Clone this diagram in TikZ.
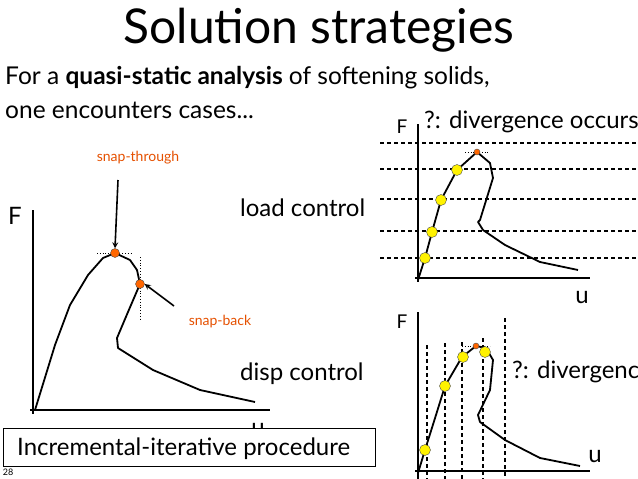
\documentclass[tikz,border=0pt]{standalone}
\usepackage{fontspec}
\setmainfont{Lato}
\begin{document}
\begin{tikzpicture}[x=1pt,y=-1pt,
  crv/.style={line width=1.8pt,line join=round},
  ax/.style={line width=1.8pt},
  lbl/.style={font=\fontsize{24}{28}\selectfont,inner sep=0pt},
  orl/.style={text=orange!70!red!90!black,font=\fontsize{14}{16}\selectfont,inner sep=0pt},
  ydot/.style={circle,fill=yellow,draw=black!70,inner sep=0pt,minimum size=11pt},
  rdot/.style={circle,fill=orange!80!red,draw=black!70,inner sep=0pt,minimum size=9pt},
  sdot/.style={circle,fill=orange!80!red,draw=black!70,inner sep=0pt,minimum size=6pt},
  dsh/.style={line width=1.3pt,dash pattern=on 4pt off 3pt},
  dot/.style={dotted,line width=0.8pt}]
\useasboundingbox (0,0) rectangle (638,479);
\clip (0,0) rectangle (638,479);
\node (title) at (319,30) {\fontsize{48}{54}\selectfont Solution strategies};
\node[anchor=west,inner sep=0pt] (l1) at (5,78) {\fontsize{24.5}{28}\selectfont For a \textbf{quasi-static analysis} of softening solids,};
\node[anchor=west,inner sep=0pt] (l2) at (5,110) {\fontsize{24.5}{28}\selectfont one encounters cases...};
% left graph
\draw[ax] (33,210) -- (33,414);
\draw[ax] (30,410) -- (270,410);
\node[lbl] (F1) at (15,216) {F};
\node[lbl] (u1) at (258,430) {u};
\draw[dot] (97,253) -- (133,253);
\draw[dot] (140,257) -- (140,320);
\draw[crv] (35,410) -- (55,345) -- (70,305) -- (88,275) -- (103,258) -- (115,253) -- (130,260) -- (137,270) -- (140,284) -- (128,312) -- (117,338) -- (118,348) -- (153,370) -- (200,390) -- (255,402);
\node[rdot] (p1) at (115,253) {};
\node[rdot] (p2) at (140,284) {};
\node[orl] (st) at (138,158) {snap-through};
\node[orl] (sb) at (220,322) {snap-back};
\coordinate (a1) at (118,180);
\draw[-stealth,line width=1.6pt] (a1) -- (p1.north);
\coordinate (a2) at (174,306);
\draw[-stealth,line width=1.6pt] (a2) -- (p2.east);
\node[lbl,anchor=west] (lc) at (240,208) {load control};
\node[lbl,anchor=west] (dc) at (240,374) {disp control};
\node[draw,line width=1.2pt,fill=white,minimum width=372pt,minimum height=38pt,anchor=north west,inner sep=0pt] (box) at (3,428) {};
\node[lbl,anchor=west] (inc) at (17,449) {Incremental-iterative procedure};
\node[font=\fontsize{9}{10}\selectfont,inner sep=0pt] (n28) at (8,472) {28};
% top right
\foreach \y in {143,169,199,231,258} \draw[dsh] (380,\y) -- (638,\y);
\draw[ax] (418,124) -- (418,282);
\draw[ax] (415,278) -- (590,278);
\node[font=\fontsize{19}{22}\selectfont,inner sep=0pt] (F2) at (402,127) {F};
\node[lbl,anchor=west] (dv1) at (424,122) {?: divergence occurs};
\node[lbl] (u2) at (582,298) {u};
\draw[dot] (465,152) -- (490,152);
\draw[crv] (418,280) -- (425,258) -- (432,232) -- (441,200) -- (457,170) -- (477,152) -- (490,163) -- (493,178) -- (480,220) -- (478,222) -- (483,230) -- (505,245) -- (540,262) -- (578,270);
\foreach \p/\n in {{425,258}/a,{432,232}/b,{441,200}/c,{457,170}/d} \node[ydot] (t\n) at (\p) {};
\node[sdot] (tr) at (477,152) {};
% bottom right
\foreach \x/\t in {427/345,445/343,462/342,483/338,505/318} \draw[dsh] (\x,\t) -- (\x,479);
\draw[ax] (418,312) -- (418,479);
\draw[ax] (415,471) -- (590,471);
\node[font=\fontsize{19}{22}\selectfont,inner sep=0pt] (F3) at (402,322) {F};
\node[lbl,anchor=west] (dv2) at (512,372) {?: divergence};
\node[lbl] (u3) at (595,457) {u};
\draw[dot] (462,346) -- (490,346);
\draw[crv] (418,473) -- (425,450) -- (436,415) -- (445,386) -- (462,357) -- (476,346) -- (486,348) -- (493,360) -- (490,390) -- (478,415) -- (480,422) -- (505,440) -- (540,458) -- (580,466);
\foreach \p/\n in {{425,450}/a,{445,386}/b,{463,357}/c,{485,352}/d} \node[ydot] (b\n) at (\p) {};
\node[sdot] (br) at (476,346) {};
\end{tikzpicture}
\end{document}
